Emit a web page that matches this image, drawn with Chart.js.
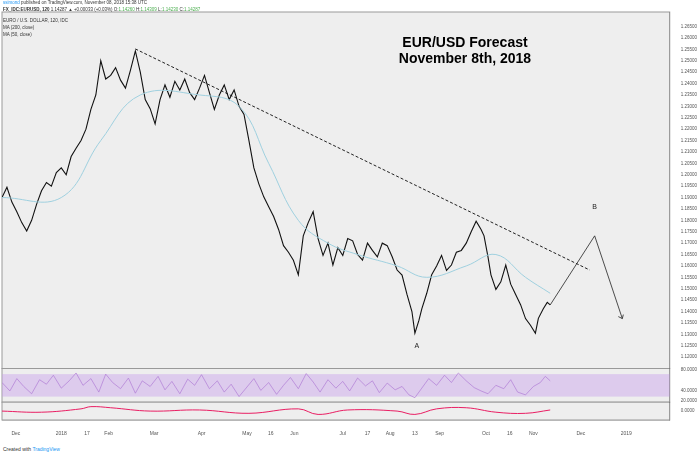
<!DOCTYPE html>
<html><head><meta charset="utf-8">
<script src="https://cdn.jsdelivr.net/npm/chart.js@4.4.0/dist/chart.umd.min.js"></script>
<style>
body{margin:0;background:#fff;font-family:"Liberation Sans",Arial,sans-serif;}
#wrap{position:relative;width:700px;height:440px;}
.hd{position:absolute;left:3px;font-size:4.5px;line-height:5px;color:#333;white-space:nowrap}
#title{position:absolute;left:395px;top:34px;width:140px;text-align:center;font-weight:bold;font-size:14px;line-height:16px;color:#000}
#foot{position:absolute;left:3px;top:446px;font-size:5px;color:#333}
</style></head><body>
<div id="wrap"><canvas id="c" width="700" height="440"></canvas>
<div class="hd" style="top:0px"><span style="color:#2196f3">ssimond</span> published on TradingView.com, November 08, 2018 15:38 UTC</div>
<div class="hd" style="top:7px"><b>FX_IDC:EURUSD, 120</b> 1.14287 ▲ +0.00033 (+0.03%) O:<span style="color:#4caf50">1.14260</span> H:<span style="color:#4caf50">1.14309</span> L:<span style="color:#4caf50">1.14230</span> C:<span style="color:#4caf50">1.14287</span></div>
<div class="hd" style="top:18px">EURO / U.S. DOLLAR, 120, IDC</div>
<div class="hd" style="top:25px">MA (200, close)</div>
<div class="hd" style="top:32px">MA (50, close)</div>
<div id="title">EUR/USD Forecast<br>November 8th, 2018</div>
</div>
<div id="foot">Created with <span style="color:#2196f3">TradingView</span></div>
<script>
// price path (x = time position, y = price)
const priceX = [0,5,10,15,20,25,30,35,40,45,50,55,60,65,70,75,80,85,90,95,100,105,110,115,120,125,130,135,140,145,150,155,160,165,170,175,180,185,190,195,200,205,210,215,220,225,230,235,240,245,250,255,260,265,270,275,280,285,290,295,300,305,310,315,320,325,330,335,340,345,350,355,360,365,370,375,380,385,390,395,400,405,410,415,418,422,425,430,435,440,445,450,455,460,465,470,475,480,485,488,492,495,500,505,510,515,520,525,530,535,540,543,548,552,555];
const priceY = [1.1900,1.1945,1.1880,1.1838,1.1790,1.1753,1.1800,1.1870,1.1930,1.1966,1.1950,1.2010,1.2030,1.2000,1.2080,1.2116,1.2150,1.2200,1.2287,1.2350,1.2500,1.2420,1.2436,1.2470,1.2415,1.2380,1.2458,1.2543,1.2450,1.2330,1.2290,1.2223,1.2330,1.2394,1.2340,1.2410,1.2372,1.2420,1.2360,1.2330,1.2380,1.2436,1.2360,1.2287,1.2350,1.2394,1.2330,1.2372,1.2300,1.2265,1.2150,1.2030,1.1960,1.1903,1.1860,1.1817,1.1760,1.1689,1.1660,1.1625,1.1561,1.1732,1.1790,1.1838,1.1720,1.1646,1.1700,1.1604,1.1680,1.1646,1.1720,1.1710,1.1650,1.1625,1.1700,1.1668,1.1640,1.1700,1.1689,1.1640,1.1582,1.1560,1.1475,1.1400,1.1305,1.1360,1.1412,1.1480,1.1561,1.1600,1.1646,1.1580,1.1604,1.1660,1.1668,1.1700,1.1750,1.1796,1.1760,1.1732,1.1640,1.1561,1.1497,1.1530,1.1604,1.1520,1.1475,1.1430,1.1369,1.1340,1.1305,1.1370,1.1412,1.1440,1.1429];
const ma50X = [0,60,100,140,200,240,270,300,330,360,400,430,470,500,530,555];
const ma50Y = [1.190,1.190,1.215,1.235,1.235,1.230,1.205,1.180,1.170,1.165,1.160,1.155,1.160,1.165,1.155,1.148];
const trendX = [135,595];
const trendY = [1.2552,1.1582];
const projX = [555,600,628];
const projY = [1.1429,1.1732,1.1369];
const rsiX = [0,8,15,22,30,38,45,52,60,68,75,82,90,98,105,112,120,128,135,142,150,158,165,172,180,188,195,202,210,218,225,232,240,248,255,262,270,278,285,292,300,308,315,322,330,338,345,352,360,368,375,382,390,398,405,412,418,425,432,440,448,455,462,470,478,485,492,500,508,515,522,530,538,545,550,555];
const rsiY = [55,40,62,48,35,60,52,68,45,58,72,50,62,38,70,55,44,63,36,58,48,66,42,57,35,61,50,69,44,58,38,52,30,47,62,41,55,34,50,64,44,71,56,38,60,45,57,40,63,49,58,37,54,42,48,33,28,45,62,50,68,55,72,58,46,40,35,50,44,60,38,33,48,55,66,58];
const macdX = [0,40,80,90,110,150,200,250,300,320,350,400,418,440,470,500,530,555];
const macdY = [0,-0.001,0.002,0.004,0.003,0,0.001,-0.002,0.002,-0.003,0.001,0,-0.003,0.002,0.003,-0.001,-0.002,0.001];
const tickPos = [14,60,86,108,154,202,248,272,296,345,370,393,418,443,490,514,538,586,632];
const tickLbl = ['Dec','2018','17','Feb','Mar','Apr','May','16','Jun','Jul','17','Aug','13','Sep','Oct','16','Nov','Dec','2019'];

const pts = (xs, ys) => xs.map((x, i) => ({x, y: ys[i]}));

const bgPlugin = {
  id: 'bg',
  beforeDraw(chart) {
    const {ctx, chartArea: a, scales} = chart;
    ctx.save();
    ctx.fillStyle = '#eeeeee';
    ['y', 'rsi', 'macd'].forEach(k => {
      const s = scales[k];
      ctx.fillRect(a.left, s.top, a.right - a.left, s.bottom - s.top);
      ctx.strokeStyle = '#999';
      ctx.strokeRect(a.left, s.top, a.right - a.left, s.bottom - s.top);
    });
    const r = scales.rsi;
    ctx.fillStyle = 'rgba(200,160,235,0.45)';
    ctx.fillRect(a.left, r.getPixelForValue(70), a.right - a.left, r.getPixelForValue(30) - r.getPixelForValue(70));
    ctx.restore();
  },
  afterDatasetsDraw(chart) {
    const {ctx, scales: {x, y}} = chart;
    ctx.save();
    ctx.fillStyle = '#222';
    ctx.font = '7px "Liberation Sans"';
    ctx.textAlign = 'center';
    ctx.fillText('A', x.getPixelForValue(420), y.getPixelForValue(1.1240));
    ctx.fillText('B', x.getPixelForValue(600), y.getPixelForValue(1.1850));
    // arrow head on projection end
    const ex = x.getPixelForValue(628), ey = y.getPixelForValue(1.1369);
    ctx.strokeStyle = '#222'; ctx.lineWidth = 0.8;
    ctx.beginPath(); ctx.moveTo(ex - 4, ey - 2); ctx.lineTo(ex, ey); ctx.lineTo(ex + 1, ey - 4); ctx.stroke();
    ctx.restore();
  }
};

new Chart(document.getElementById('c'), {
  type: 'line',
  data: {
    datasets: [
      {data: pts(ma50X, ma50Y), borderColor: '#9fd0df', borderWidth: 1, pointRadius: 0, tension: 0.4, yAxisID: 'y'},
      {data: pts(priceX, priceY), borderColor: '#111', borderWidth: 1.1, pointRadius: 0, yAxisID: 'y'},
      {data: pts(trendX, trendY), borderColor: '#222', borderWidth: 1, borderDash: [3, 2], pointRadius: 0, yAxisID: 'y'},
      {data: pts(projX, projY), borderColor: '#222', borderWidth: 0.8, pointRadius: 0, yAxisID: 'y'},
      {data: pts(rsiX, rsiY), borderColor: '#b07cd6', borderWidth: 0.7, pointRadius: 0, yAxisID: 'rsi'},
      {data: pts(macdX, macdY), borderColor: '#e91e63', borderWidth: 1, pointRadius: 0, tension: 0.4, yAxisID: 'macd'}
    ]
  },
  options: {
    responsive: false, animation: false,
    layout: {padding: {left: 2, top: 12, right: 0, bottom: 0}},
    plugins: {legend: {display: false}, tooltip: {enabled: false}},
    scales: {
      x: {type: 'linear', min: 0, max: 676, grid: {display: false},
        afterBuildTicks: ax => { ax.ticks = tickPos.map(v => ({value: v})); },
        ticks: {autoSkip: false, maxRotation: 0, font: {size: 5}, color: '#555', callback: v => tickLbl[tickPos.indexOf(v)]}},
      y: {position: 'right', stack: 's', stackWeight: 18, min: 1.115, max: 1.2714, grid: {display: false},
        afterBuildTicks: ax => { const t = []; for (let v = 1.12; v <= 1.2651; v += 0.005) t.push({value: v}); ax.ticks = t; },
        ticks: {font: {size: 4.5}, color: '#555', autoSkip: false, callback: v => v.toFixed(5)}},
      rsi: {position: 'right', stack: 's', stackWeight: 1.7, min: 20, max: 80, grid: {display: false},
        afterBuildTicks: ax => { ax.ticks = [{value: 78}, {value: 40}, {value: 22}]; },
        ticks: {font: {size: 4.5}, color: '#555', callback: v => (v > 70 ? 80 : v < 30 ? 20 : 40).toFixed(4)}},
      macd: {position: 'right', stack: 's', stackWeight: 0.9, min: -0.008, max: 0.008, grid: {display: false},
        afterBuildTicks: ax => { ax.ticks = [{value: 0}]; },
        ticks: {font: {size: 4.5}, color: '#555', callback: () => '0.0000'}}
    }
  },
  plugins: [bgPlugin]
});
</script>
</body></html>
